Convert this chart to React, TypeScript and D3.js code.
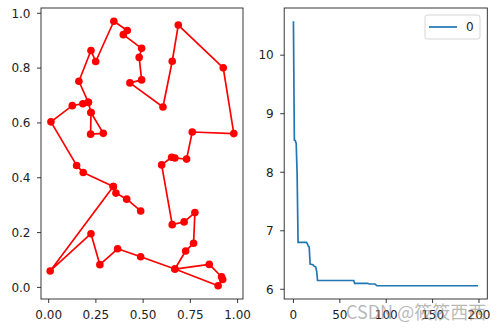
import React from 'react'
import * as d3 from 'd3'

const W = 500
const H = 331
const FONT = 'DejaVu Sans, sans-serif'

// tour through the cities, in visiting order (a few cities are passed twice)
const ROUTE_X = [
  0.487, 0.413, 0.356, 0.342, 0.183, 0.148, 0.012, 0.125, 0.181, 0.210,
  0.224, 0.222, 0.289, 0.224, 0.210, 0.160, 0.224, 0.249, 0.345, 0.416,
  0.395, 0.492, 0.479, 0.492, 0.430, 0.605, 0.654, 0.686, 0.924, 0.980,
  0.760, 0.730, 0.668, 0.651, 0.598, 0.654, 0.717, 0.774, 0.767, 0.725,
  0.668, 0.850, 0.915, 0.921, 0.897, 0.668, 0.487, 0.365, 0.271, 0.224,
  0.008, 0.342,
]
const ROUTE_Y = [
  0.279, 0.322, 0.344, 0.368, 0.419, 0.445, 0.604, 0.663, 0.670, 0.675,
  0.638, 0.559, 0.562, 0.638, 0.675, 0.752, 0.864, 0.824, 0.971, 0.937,
  0.922, 0.872, 0.839, 0.757, 0.746, 0.658, 0.825, 0.957, 0.801, 0.561,
  0.567, 0.468, 0.472, 0.475, 0.447, 0.229, 0.239, 0.273, 0.161, 0.133,
  0.067, 0.084, 0.039, 0.029, 0.006, 0.067, 0.112, 0.141, 0.083, 0.196,
  0.060, 0.368,
]

// best distance per generation (value changes only)
const ITERATIONS = [0, 1, 2, 3, 4, 5, 14, 15, 16, 17, 18, 21, 22, 24, 25, 26, 65, 66, 80, 82, 88, 90, 199]
const BEST_DISTANCE = [
  10.58, 8.55, 8.54, 8.49, 7.95, 6.80, 6.80, 6.78, 6.74, 6.72, 6.43, 6.42,
  6.40, 6.38, 6.31, 6.15, 6.15, 6.10, 6.10, 6.09, 6.09, 6.06, 6.06,
]

const LEFT_X_TICKS = [0, 0.25, 0.5, 0.75, 1]
const LEFT_Y_TICKS = [0, 0.2, 0.4, 0.6, 0.8, 1]
const RIGHT_X_TICKS = [0, 50, 100, 150, 200]
const RIGHT_Y_TICKS = [6, 7, 8, 9, 10]
const LEGEND_LABELS = ['0']
const WATERMARK = 'CSDN @筱筱西西'

const TOP = 8
const BOTTOM = 299
const LEFT_BOX = [41, 243]
const RIGHT_BOX = [284.2, 487.3]
const TICK = 4

// matplotlib style 5% padding around the data
function padded(values: number[]): [number, number] {
  const [lo, hi] = d3.extent(values) as [number, number]
  const m = (hi - lo) * 0.05
  return [lo - m, hi + m]
}

function Axes({ box, xScale, yScale, xTicks, yTicks, xFmt, yFmt }: any) {
  return (
    <g fontFamily={FONT} fontSize={12} fill="#222">
      {xTicks.map((t: number) => (
        <g key={'x' + t}>
          <line x1={xScale(t)} x2={xScale(t)} y1={BOTTOM} y2={BOTTOM + TICK} stroke="#222" strokeWidth={0.9} />
          <text x={xScale(t)} y={BOTTOM + 20} textAnchor="middle">{xFmt(t)}</text>
        </g>
      ))}
      {yTicks.map((t: number) => (
        <g key={'y' + t}>
          <line x1={box[0] - TICK} x2={box[0]} y1={yScale(t)} y2={yScale(t)} stroke="#222" strokeWidth={0.9} />
          <text x={box[0] - 10.5} y={yScale(t)} dy="0.36em" textAnchor="end">{yFmt(t)}</text>
        </g>
      ))}
      <rect x={box[0]} y={TOP} width={box[1] - box[0]} height={BOTTOM - TOP} fill="none" stroke="#222" strokeWidth={0.9} />
    </g>
  )
}

export default function App() {
  const route = ROUTE_X.map((x, i) => [x, ROUTE_Y[i]] as [number, number])
  const lx = d3.scaleLinear().domain(padded(ROUTE_X)).range(LEFT_BOX)
  const ly = d3.scaleLinear().domain(padded(ROUTE_Y)).range([BOTTOM, TOP])
  const routeLine = d3.line<[number, number]>().x((d) => lx(d[0])).y((d) => ly(d[1]))

  const rx = d3.scaleLinear().domain(padded(ITERATIONS)).range(RIGHT_BOX)
  const ry = d3.scaleLinear().domain(padded(BEST_DISTANCE)).range([BOTTOM, TOP])
  const bestLine = d3.line<number>().x((d, i) => rx(ITERATIONS[i])).y((d) => ry(d))

  return (
    <svg width={W} height={H} style={{ position: 'absolute', left: 0, top: 0, background: '#fff' }}>
      <rect width={W} height={H} fill="#fff" />

      {/* left: the tour */}
      <path d={routeLine(route) || ''} fill="none" stroke="#ff0000" strokeWidth={1.7} strokeLinejoin="round" />
      {route.map((d, i) => (
        <circle key={i} cx={lx(d[0])} cy={ly(d[1])} r={3.8} fill="#ff0000" />
      ))}
      <Axes box={LEFT_BOX} xScale={lx} yScale={ly} xTicks={LEFT_X_TICKS} yTicks={LEFT_Y_TICKS}
        xFmt={d3.format('.2f')} yFmt={d3.format('.1f')} />

      {/* right: convergence */}
      <path d={bestLine(BEST_DISTANCE) || ''} fill="none" stroke="#1f77b4" strokeWidth={1.7} />
      <Axes box={RIGHT_BOX} xScale={rx} yScale={ry} xTicks={RIGHT_X_TICKS} yTicks={RIGHT_Y_TICKS}
        xFmt={d3.format('d')} yFmt={d3.format('d')} />

      {/* legend */}
      <g fontFamily={FONT} fontSize={12} fill="#222">
        <rect x={425} y={15} width={55} height={24} rx={2.5} fill="#fff" fillOpacity={0.8} stroke="#d0d0d0" strokeWidth={0.9} />
        {LEGEND_LABELS.map((l, i) => (
          <g key={l}>
            <line x1={429} x2={457} y1={27 + i * 16} y2={27 + i * 16} stroke="#1f77b4" strokeWidth={1.7} />
            <text x={466} y={27 + i * 16} dy="0.36em">{l}</text>
          </g>
        ))}
      </g>

      <text x={346} y={319} fontFamily="Noto Sans CJK SC, sans-serif" fontSize={18} fill="#888" fillOpacity={0.6}>
        {WATERMARK}
      </text>
    </svg>
  )
}
